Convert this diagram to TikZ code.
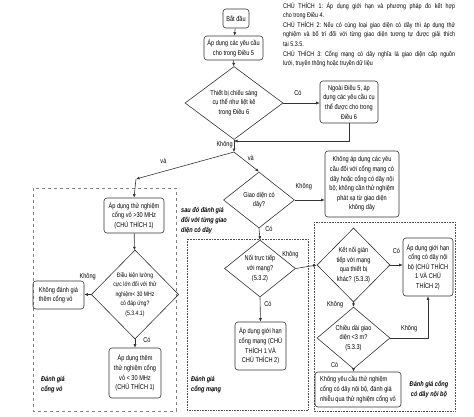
\documentclass[tikz,border=0pt]{standalone}
\usepackage{fontspec}
\setmainfont{Liberation Sans}[FakeStretch=0.8]
\usepackage{tikz}
\usetikzlibrary{positioning,shapes.geometric,arrows.meta}

\begin{document}
\begin{tikzpicture}[x=1pt,y=-1pt,
    arr/.style={draw=black!80,line width=0.6pt,-{Latex[length=3.5pt,width=3pt]}},
    box/.style={draw=black!80,line width=0.6pt,rounded corners=3pt,align=center,inner sep=1pt,font=\fontsize{7}{9.6}\selectfont},
    dec/.style={draw=black!80,line width=0.6pt,diamond,align=center,inner sep=0pt,font=\fontsize{7}{9.6}\selectfont},
    lbl/.style={font=\fontsize{7}{8}\selectfont,inner sep=1pt},
    zone/.style={font=\fontsize{7}{10}\selectfont\bfseries\itshape,align=left,inner sep=0pt}]
    \useasboundingbox (0,0) rectangle (474,416);
    % evaluation areas
    \draw[gray,dashed,line width=0.5pt] (33,188) rectangle (176,411);
    \draw[black!70,densely dotted,line width=0.6pt] (187,239) rectangle (308,410);
    \draw[black!70,densely dotted,line width=0.6pt] (314,222) rectangle (455,411);
    % notes
    \node[anchor=north west,text width=172pt,align=justify,inner sep=0pt,font=\fontsize{6.7}{9.6}\selectfont\frenchspacing] (notes) at (283,2)
      {CHÚ THÍCH 1: Áp dụng giới hạn và phương pháp đo kết hợp\linebreak cho trong Điều 4.\par
       CHÚ THÍCH 2: Nếu có cùng loại giao diện có dây thì áp dụng thử\linebreak nghiệm và bố trí đối với từng giao diện tương tự được giải thích\linebreak tại 5.3.5.\par
       CHÚ THÍCH 3: Cổng mạng có dây nghĩa là giao diện cấp nguồn\linebreak lưới, truyền thông hoặc truyền dữ liệu};
    % main column
    \node[box,minimum width=26pt,minimum height=19pt] (start) at (236,18.5) {Bắt đầu};
    \node[box,minimum width=59pt,minimum height=24pt] (apply5) at (233.5,48) {Áp dụng các yêu cầu\\cho trong Điều 5};
    \node[dec,minimum width=98pt,minimum height=60pt] (d6) at (234,103) {Thiết bị chiếu sáng\\cụ thể như liệt kê\\trong Điều 6};
    \node[box,minimum width=58pt,minimum height=42pt] (extra6) at (349,102) {Ngoài Điều 5, áp\\dụng các yêu cầu cụ\\thể được cho trong\\Điều 6};
    \coordinate (j1) at (234,141);
    \coordinate (j2) at (234,152);
    \coordinate (k1) at (136,179);
    \node[dec,minimum width=71pt,minimum height=56pt] (dwire) at (259,200) {Giao diện có\\dây?};
    \node[box,minimum width=74pt,minimum height=66pt] (nowire) at (362,184) {Không áp dụng các yêu\\cầu đối với cổng mạng có\\dây hoặc cổng có dây nội\\bộ; không cần thử nghiệm\\phát xạ từ giao diện\\không dây};
    % shell port
    \node[box,minimum width=60pt,minimum height=35pt] (test30) at (134,215.5) {Áp dụng thử nghiệm\\cổng vỏ >30 MHz\\(CHÚ THÍCH 1)};
    \node[dec,minimum width=84pt,minimum height=89pt,font=\fontsize{6.4}{9.5}\selectfont] (dlarge) at (135,294.5) {Điều kiện lường\\cực lớn đối với thử\\nghiệm< 30 MHz\\có đáp ứng?\\(5.3.4.1)};
    \node[box,minimum width=51pt,minimum height=28pt,align=left] (noeval) at (58.5,295) {Không đánh giá\\thêm cổng vỏ};
    \node[box,minimum width=52pt,minimum height=50pt] (test30b) at (135,373) {Áp dụng thêm\\thử nghiệm cổng\\vỏ < 30 MHz\\(CHÚ THÍCH 1)};
    % network port
    \node[dec,minimum width=71pt,minimum height=57pt] (ddirect) at (260,268.5) {Nối trực tiếp\\với mạng?\\(5.3.2)};
    \node[box,minimum width=51pt,minimum height=48pt] (netlim) at (260.5,346) {Áp dụng giới hạn\\cổng mạng (CHÚ\\THÍCH 1 VÀ\\CHÚ THÍCH 2)};
    % internal wired port
    \node[dec,minimum width=73pt,minimum height=74pt] (dindirect) at (353.5,265) {Kết nối gián\\tiếp với mạng\\qua thiết bị\\khác? (5.3.3)};
    \node[box,minimum width=50pt,minimum height=58pt] (wiredlim) at (428,267) {Áp dụng giới hạn\\cổng có dây nội\\bộ (CHÚ THÍCH\\1 VÀ CHÚ\\THÍCH 2)};
    \node[dec,minimum width=73pt,minimum height=58pt] (dlen) at (353.5,338) {Chiều dài giao\\diện <3 m?\\(5.3.3)};
    \node[box,minimum width=86pt,minimum height=35pt,align=left] (noreq) at (358,389.5) {Không yêu cầu thử nghiệm\\cổng có dây nội bộ, đánh giá\\nhiễu qua thử nghiệm cổng vỏ};
    % area labels
    \node[zone,anchor=north west] (lthen) at (181,207) {sau đó đánh giá\\đối với từng giao\\diện có dây};
    \node[zone,anchor=north west] (lshell) at (41,376) {Đánh giá\\cổng vỏ};
    \node[zone,anchor=north west] (lnet) at (191,376) {Đánh giá\\cổng mạng};
    \node[zone,align=center] (linner) at (429,389) {Đánh giá cổng\\có dây nội bộ};
    % connectors
    \draw[arr] (start) -- (apply5);
    \draw[arr] (apply5) -- (d6);
    \draw[arr] (d6.east) -- node[lbl,above=6pt,pos=0.4]{Có} (d6.east -| extra6.west);
    \draw[arr] (d6.south) -- node[lbl,left,pos=0.4]{Không} (j2);
    \draw[arr] (extra6.south) |- (j1);
    \draw[arr] (j2) -- node[lbl,pos=0.72,above=7pt]{và} (k1);
    \draw[arr] (k1) -- (test30.north);
    \draw[arr] (j2) -- node[lbl,midway,above right]{và} (dwire.north);
    \draw[arr] (dwire.east) -- node[lbl,pos=0.3,above=9pt]{Không} (dwire.east -| nowire.west);
    \draw[arr] (dwire.south) -- node[lbl,pos=0.1,right=5pt]{Có} (ddirect.north);
    \draw[arr] (test30) -- (dlarge);
    \draw[arr] (dlarge.west) -- node[lbl,midway,above=13pt]{Không} (noeval.east |- dlarge.west);
    \draw[arr] (dlarge.south) -- node[lbl,pos=0.1,right=7pt]{Có} (test30b.north);
    \draw[arr] (ddirect.east) -- node[lbl,pos=0,above left=9pt and -4pt]{Không} (dindirect.west);
    \draw[arr] (ddirect.south) -- node[lbl,pos=0.28,right=3pt]{Có} (netlim.north);
    \draw[arr] (dindirect.east) -- node[lbl,midway,above=10pt]{Có} (dindirect.east -| wiredlim.west);
    \draw[arr] (dindirect.south) -- node[lbl,midway,left=9pt]{Không} (dlen.north);
    \draw[arr] (dlen.east) -| node[lbl,pos=0.25,above=5pt]{Không} (wiredlim.south);
    \draw[arr] (dlen.south) -- node[lbl,pos=0,above left=0pt and 14pt]{Có} (dlen.south |- noreq.north);
\end{tikzpicture}
\end{document}
